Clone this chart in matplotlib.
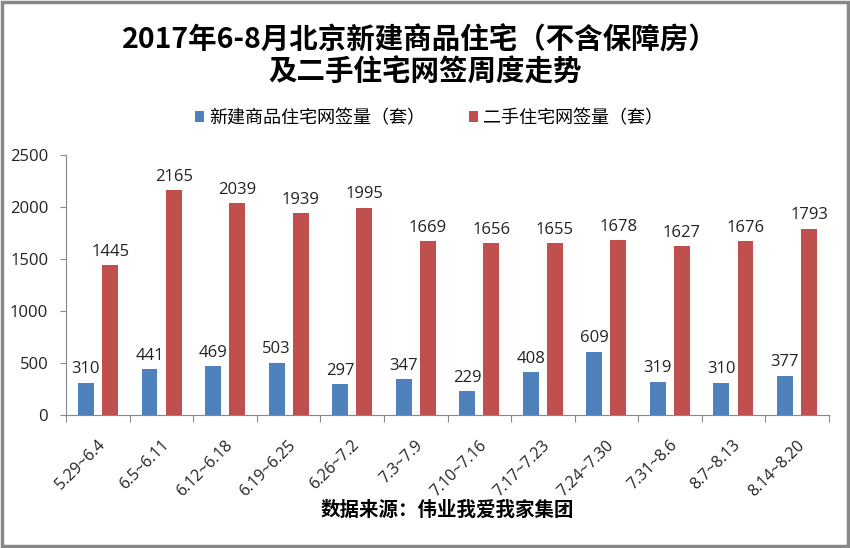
import numpy as np
import matplotlib.pyplot as plt
from matplotlib.patches import Rectangle

plt.rcParams['font.family'] = ['Noto Sans CJK SC', 'DejaVu Sans']
num_font = ['Open Sans', 'Noto Sans CJK SC', 'DejaVu Sans']

weeks = ['5.29~6.4', '6.5~6.11', '6.12~6.18', '6.19~6.25', '6.26~7.2', '7.3~7.9',
         '7.10~7.16', '7.17~7.23', '7.24~7.30', '7.31~8.6', '8.7~8.13', '8.14~8.20']
new_homes = [310, 441, 469, 503, 297, 347, 229, 408, 609, 319, 310, 377]
second_hand = [1445, 2165, 2039, 1939, 1995, 1669, 1656, 1655, 1678, 1627, 1676, 1793]
names = ['新建商品住宅网签量（套）', '二手住宅网签量（套）']

blue = '#4F81BD'
red = '#C0504D'

fig = plt.figure(figsize=(8.5, 5.48), dpi=100)
ax = fig.add_axes([0.078, 0.243, 0.897, 0.474])

x = np.arange(len(weeks))
w = 0.25
b1 = ax.bar(x - 0.19, new_homes, w, color=blue, label=names[0])
b2 = ax.bar(x + 0.19, second_hand, w, color=red, label=names[1])

for bars, vals in [(b1, new_homes), (b2, second_hand)]:
    for r, v in zip(bars, vals):
        ax.text(r.get_x() + r.get_width() / 2, v + 50, str(v), ha='center', va='bottom',
                fontsize=12, color='#222222', family=num_font)

ax.set_xlim(-0.5, len(weeks) - 0.5)
ax.set_ylim(0, 2500)
ax.set_yticks([0, 500, 1000, 1500, 2000, 2500])
ax.tick_params(axis='y', labelsize=12, length=4, pad=9, color='#888888', labelcolor='#222222')
for t in ax.get_yticklabels():
    t.set_family(num_font)

# ticks at category boundaries, labels at centres
ax.set_xticks(np.arange(-0.5, len(weeks), 1.0))
ax.set_xticklabels([])
ax.tick_params(axis='x', length=5, color='#888888')
for i, lab in enumerate(weeks):
    ax.text(i - 0.01, -215, lab, rotation=45, ha='right', va='top', rotation_mode='anchor',
            fontsize=11.5, color='#222222', family=num_font)

for s in ['top', 'right']:
    ax.spines[s].set_visible(False)
for s in ['left', 'bottom']:
    ax.spines[s].set_color('#888888')

fig.text(0.494, 0.927, '2017年6-8月北京新建商品住宅（不含保障房）', ha='center', va='center',
         fontsize=20.5, fontweight='bold')
fig.text(0.5, 0.868, '及二手住宅网签周度走势', ha='center', va='center',
         fontsize=20.5, fontweight='bold')

fig.legend(loc='center', bbox_to_anchor=(0.505, 0.785), ncol=2, frameon=False, fontsize=13,
           handlelength=0.5, handleheight=0.5, columnspacing=2.4, handletextpad=0.3)

fig.text(0.526, 0.068, '数据来源：伟业我爱我家集团', ha='center', va='center',
         fontsize=14, fontweight='bold')

fig.patches.append(Rectangle((0.002, 0.003), 0.996, 0.994, transform=fig.transFigure,
                             fill=False, edgecolor='#888888', linewidth=2.5))

fig.savefig('out.png', dpi=100)
